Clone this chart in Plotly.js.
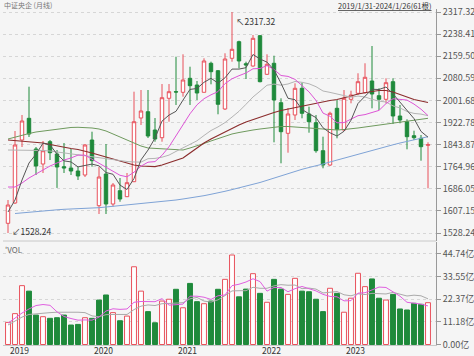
<!DOCTYPE html>
<html>
<head>
<meta charset="utf-8">
<script src="https://cdn.plot.ly/plotly-3.0.1.min.js"></script>
<style>
  html, body { margin: 0; padding: 0; background: #f5f5f5; }
  #chart { width: 474px; height: 356px; }
</style>
</head>
<body>
<div id="chart"></div>
<script>
// ---- data (monthly, 2019-01 .. 2024-01, 61 bars) ----
const months = [];
for (let y = 2019; y <= 2024; y++) {
  for (let m = 1; m <= 12; m++) {
    if (y === 2024 && m > 1) break;
    months.push(y + '-' + String(m).padStart(2, '0'));
  }
}

const openP = [1562.9, 1635.4, 1860.3, 1937.8, 1828.2, 1774.6, 1854.3, 1810.3, 1765.0, 1760.3, 1749.6, 1735.3,
  1860.3, 1625.7, 1738.9, 1631.8, 1679.3, 1657.9, 1711.4, 1938.9, 1961.3, 1896.0, 1868.5, 2009.2,
  2032.8, 2030.6, 2080.6, 2056.7, 2030.6, 2134.2, 2107.7, 1971.0, 2152.0, 2211.3, 2132.7, 2124.5,
  2232.7, 2094.9, 2134.2, 1993.5, 1884.2, 1949.6, 2044.9, 1953.2, 1922.1, 1822.1, 1771.0, 1973.5,
  1896.0, 2005.6, 2027.0, 2029.2, 2071.0, 2018.5, 2005.6, 2068.5, 1946.0, 1925.6, 1875.7, 1866.4,
  1841.4];
const highP = [1646.1, 1892.4, 1949.6, 2050.6, 1835.3, 1856.7, 1860.3, 1824.6, 1849.6, 1828.2, 1763.9, 1846.0,
  1889.9, 1763.9, 1846.0, 1706.8, 1724.6, 1742.5, 2032.8, 2038.8, 2038.8, 1938.8, 2060.2, 2060.2,
  2157.7, 2166.3, 2122.0, 2071.0, 2152.0, 2140.0, 2110.2, 2169.9, 2317.32, 2214.9, 2139.9, 2235.2,
  2235.2, 2166.3, 2161.3, 2009.2, 1974.6, 2062.7, 2064.9, 1979.2, 1949.6, 1872.1, 1961.4, 2003.1,
  2038.8, 2036.3, 2098.5, 2134.2, 2195.9, 2044.9, 2080.6, 2080.6, 1985.3, 1934.2, 1893.5, 1878.2,
  1852.1];
const lowP = [1528.24, 1631.8, 1835.3, 1871.0, 1735.3, 1742.5, 1788.9, 1689.2, 1742.5, 1735.3, 1717.6, 1728.2,
  1765.0, 1596.1, 1596.1, 1622.2, 1640.0, 1656.8, 1710.3, 1913.9, 1867.4, 1854.2, 1854.2, 1925.6,
  1985.3, 2014.9, 1985.3, 2003.1, 2030.6, 2059.2, 1952.1, 1967.4, 2139.9, 2116.3, 2078.1, 2122.0,
  2066.3, 2092.4, 1852.1, 1777.1, 1815.0, 1931.7, 1937.8, 1886.4, 1814.9, 1759.3, 1767.5, 1866.4,
  1893.5, 1991.3, 2021.0, 2027.0, 1973.5, 1967.4, 1991.3, 1917.4, 1919.9, 1827.1, 1860.3, 1786.4,
  1687.8];
const closeP = [1628.2, 1842.5, 1928.2, 1881.7, 1767.5, 1822.0, 1815.0, 1763.9, 1760.3, 1749.6, 1731.8, 1842.5,
  1786.4, 1728.2, 1631.8, 1699.6, 1649.6, 1707.9, 1925.6, 1963.9, 1874.6, 1863.9, 2011.3, 2032.8,
  2031.7, 2074.5, 2054.2, 2028.1, 2142.4, 2104.2, 1987.8, 2149.5, 2184.1, 2142.4, 2128.1, 2223.4,
  2068.5, 2130.6, 2003.1, 1889.9, 1953.2, 2044.9, 1955.6, 1925.6, 1822.1, 1771.0, 1955.6, 1898.5,
  2009.2, 2021.0, 2068.5, 2084.2, 2024.5, 2005.6, 2064.9, 1946.0, 1931.7, 1872.1, 1868.5, 1836.4,
  1843.5];

// moving averages
const ma5 = [1603.2, 1646.1, 1717.5, 1778.2, 1809.6, 1848.6, 1842.8, 1810.0, 1785.7, 1782.1, 1764.3, 1769.6,
  1774.3, 1767.9, 1744.3, 1737.9, 1699.3, 1683.6, 1722.9, 1789.3, 1824.3, 1867.1, 1927.8, 1949.2,
  1962.8, 2002.8, 2041.0, 2044.2, 2066.3, 2080.6, 2063.5, 2082.4, 2113.5, 2113.5, 2118.5, 2165.6,
  2149.2, 2138.5, 2110.6, 2063.1, 2009.2, 2004.2, 1969.2, 1953.9, 1940.3, 1903.9, 1886.0, 1874.6,
  1891.4, 1931.0, 1990.7, 2016.4, 2041.4, 2040.6, 2049.6, 2024.9, 1994.6, 1964.2, 1936.7, 1891.0,
  1870.3];
const ma10 = [1692.5, 1692.5, 1706.8, 1724.7, 1738.9, 1753.2, 1767.5, 1778.2, 1788.9, 1796.1, 1806.4, 1806.1,
  1792.1, 1776.8, 1763.2, 1751.1, 1734.3, 1728.9, 1745.4, 1766.8, 1781.1, 1783.2, 1805.7, 1836.1,
  1876.0, 1913.5, 1953.9, 1986.0, 2007.8, 2021.7, 2033.1, 2061.7, 2078.8, 2089.9, 2099.6, 2114.6,
  2115.6, 2126.0, 2112.1, 2090.6, 2087.4, 2076.7, 2053.9, 2032.1, 2001.7, 1956.4, 1945.0, 1921.7,
  1922.5, 1935.7, 1947.1, 1951.0, 1957.8, 1966.0, 1990.3, 2007.8, 2005.3, 2002.8, 1988.5, 1970.3,
  1947.5];
const ma20 = [1824.6, 1824.6, 1824.6, 1824.6, 1824.6, 1822.8, 1821.0, 1817.5, 1813.9, 1810.4, 1806.8, 1803.2,
  1799.6, 1796.1, 1792.5, 1788.9, 1785.4, 1783.6, 1781.8, 1781.4, 1793.6, 1794.6, 1798.9, 1806.4,
  1819.6, 1832.1, 1843.9, 1857.5, 1876.4, 1894.2, 1907.1, 1922.5, 1942.1, 1962.8, 1987.8, 2013.9,
  2034.6, 2056.0, 2059.9, 2056.0, 2060.3, 2069.2, 2066.3, 2061.0, 2050.6, 2035.3, 2030.3, 2023.9,
  2017.1, 2013.1, 2017.1, 2013.9, 2005.6, 1998.9, 1996.0, 1982.1, 1974.9, 1962.1, 1955.3, 1952.8,
  1947.1];
const ma30 = [1860.3, 1858.5, 1856.8, 1855.0, 1853.2, 1849.6, 1844.3, 1838.9, 1833.6, 1830.0, 1826.4, 1821.1,
  1813.9, 1806.8, 1799.6, 1792.5, 1785.3, 1778.2, 1771.1, 1767.5, 1765.0, 1765.0, 1771.1, 1780.0,
  1788.9, 1796.1, 1813.9, 1831.8, 1849.6, 1863.9, 1876.4, 1888.9, 1903.2, 1913.9, 1924.6, 1933.5,
  1942.5, 1951.4, 1958.5, 1965.7, 1971.0, 1976.4, 1981.7, 1987.1, 1992.4, 1997.8, 2001.4, 2004.9,
  2010.3, 2017.4, 2024.6, 2029.9, 2033.5, 2037.1, 2037.1, 2031.7, 2022.8, 2013.9, 2004.9, 1999.6,
  1994.2];
const ma60 = [1863.9, 1871.0, 1878.2, 1883.5, 1888.9, 1892.5, 1896.0, 1899.6, 1903.2, 1905.0, 1905.7, 1905.0,
  1903.2, 1899.6, 1892.5, 1881.8, 1871.0, 1858.5, 1847.8, 1838.9, 1831.8, 1830.0, 1828.2, 1826.4,
  1824.6, 1824.6, 1831.8, 1838.9, 1847.8, 1856.8, 1865.7, 1874.6, 1881.8, 1887.1, 1892.5, 1896.0,
  1899.6, 1903.2, 1906.7, 1908.5, 1908.5, 1906.7, 1905.0, 1903.2, 1899.6, 1897.8, 1896.0, 1896.0,
  1897.8, 1899.6, 1903.2, 1906.7, 1910.3, 1913.9, 1917.5, 1921.0, 1924.6, 1928.2, 1931.7, 1935.3,
  1937.8];
const ma120 = [null, 1597.9, 1600.4, 1603.3, 1605.0, 1606.8, 1609.3, 1611.1, 1612.9, 1614.7, 1615.8, 1616.8,
  1617.5, 1618.6, 1621.1, 1622.9, 1624.7, 1627.2, 1629.7, 1631.8, 1634.0, 1636.8, 1639.7, 1642.5,
  1646.1, 1649.7, 1653.2, 1656.8, 1661.5, 1666.5, 1671.1, 1677.2, 1683.2, 1688.9, 1695.0, 1701.4,
  1708.6, 1716.4, 1724.7, 1732.5, 1740.0, 1747.9, 1755.7, 1762.1, 1767.5, 1774.6, 1781.8, 1788.9,
  1796.1, 1803.2, 1810.3, 1816.4, 1822.8, 1830.0, 1837.1, 1843.2, 1849.6, 1855.0, 1860.3, 1866.4,
  1872.1];

// volume (亿)
const vol = [10.9, 15.2, 29.0, 26.3, 14.5, 13.7, 12.9, 13.2, 14.5, 9.6, 9.9, 13.2,
  12.9, 21.9, 24.4, 15.7, 11.7, 14.0, 38.3, 26.3, 16.2, 10.7, 21.4, 22.3,
  27.2, 18.1, 30.1, 21.1, 20.1, 21.4, 27.2, 32.1, 44.1, 23.5, 27.3, 34.9,
  25.2, 20.8, 32.1, 27.3, 24.7, 32.6, 26.3, 26.0, 22.3, 16.2, 27.7, 25.2,
  15.9, 22.8, 35.1, 28.5, 32.3, 22.8, 21.9, 24.7, 17.5, 17.0, 20.3, 19.8,
  20.6];
const volMa5 = [10.5, 13.0, 15.5, 17.5, 19.2, 19.7, 19.3, 16.1, 13.8, 12.8, 12.0, 12.1,
  12.0, 13.5, 16.5, 17.6, 17.3, 17.5, 20.8, 21.2, 21.3, 21.1, 22.6, 19.4,
  19.6, 19.9, 23.8, 23.8, 23.3, 22.2, 24.0, 24.4, 29.0, 29.7, 30.8, 32.4,
  31.0, 26.3, 28.1, 28.1, 26.0, 27.5, 28.6, 27.4, 26.4, 24.7, 23.7, 23.5,
  21.5, 21.6, 25.3, 25.5, 26.9, 28.3, 28.1, 26.0, 23.8, 20.8, 20.3, 19.9,
  19.0];
const volMa10 = [9.6, 11.5, 13.5, 14.8, 15.2, 15.5, 15.7, 15.9, 16.0, 16.0, 15.9, 15.7,
  14.1, 13.7, 14.7, 14.8, 14.7, 14.8, 17.2, 18.9, 19.5, 19.2, 20.1, 20.1,
  20.4, 20.6, 22.5, 23.2, 21.4, 20.9, 22.0, 24.1, 26.4, 26.5, 26.5, 28.2,
  27.7, 27.7, 28.9, 29.5, 29.2, 29.3, 27.5, 27.8, 27.3, 25.4, 25.6, 26.1,
  24.5, 24.0, 25.0, 24.6, 25.2, 24.9, 24.9, 25.7, 24.7, 23.9, 24.3, 24.0,
  22.5];

const priceTicks = [1528.24, 1607.15, 1686.05, 1764.96, 1843.87, 1922.78, 2001.68, 2080.59, 2159.50, 2238.41, 2317.32];
const priceTickText = ['1528.24', '1607.15', '1686.05', '1764.96', '1843.87', '1922.78', '2001.68', '2080.59', '2159.50', '2238.41', '2317.32'];
const volTicks = [0, 11.18, 22.37, 33.55, 44.74];
const volTickText = ['0.00亿', '11.18亿', '22.37亿', '33.55亿', '44.74亿'];
const yearTicks = ['2019-01', '2020-01', '2021-01', '2022-01', '2023-01'];
const yearText = ['2019', '2020', '2021', '2022', '2023'];

// ---- styles ----
const RED = '#e8505b';
const GREEN = '#1f8a3b';
const BG = '#f5f5f5';
const FONT = '"Noto Sans CJK SC", "Noto Sans", sans-serif';

const volUp = closeP.map((c, i) => i === 0 ? c >= openP[0] : c >= closeP[i - 1]);

const traces = [
  {
    type: 'candlestick', x: months, open: openP, high: highP, low: lowP, close: closeP,
    xaxis: 'x', yaxis: 'y', whiskerwidth: 0,
    increasing: { line: { color: RED, width: 1 }, fillcolor: '#ffffff' },
    decreasing: { line: { color: GREEN, width: 1 }, fillcolor: GREEN },
    hoverinfo: 'skip', showlegend: false
  },
  { type: 'scatter', mode: 'lines', x: months, y: ma120, line: { color: '#7fa3d6', width: 1 }, yaxis: 'y', showlegend: false },
  { type: 'scatter', mode: 'lines', x: months, y: ma60, line: { color: '#6f9a5e', width: 1 }, yaxis: 'y', showlegend: false },
  { type: 'scatter', mode: 'lines', x: months, y: ma30, line: { color: '#8b2d2d', width: 1.2 }, yaxis: 'y', showlegend: false },
  { type: 'scatter', mode: 'lines', x: months, y: ma20, line: { color: '#b4b4b4', width: 1 }, yaxis: 'y', showlegend: false },
  { type: 'scatter', mode: 'lines', x: months, y: ma10, line: { color: '#dd55d6', width: 1 }, yaxis: 'y', showlegend: false },
  { type: 'scatter', mode: 'lines', x: months, y: ma5, line: { color: '#555555', width: 1 }, yaxis: 'y', showlegend: false },
  {
    type: 'bar', x: months, y: vol, yaxis: 'y2', width: 0.7,
    marker: {
      color: volUp.map(u => u ? '#ffffff' : GREEN),
      line: { color: volUp.map(u => u ? RED : GREEN), width: 1 }
    },
    showlegend: false, hoverinfo: 'skip'
  },
  { type: 'scatter', mode: 'lines', x: months, y: volMa10, yaxis: 'y2', line: { color: '#aaaaaa', width: 1 }, showlegend: false },
  { type: 'scatter', mode: 'lines', x: months, y: volMa5, yaxis: 'y2', line: { color: '#e060e0', width: 1 }, showlegend: false }
];

const splitY = 0.3095;
const yearAnnotations = yearTicks.map((m, k) => ({
  xref: 'x', yref: 'paper', x: m, y: 0, xanchor: 'left', yanchor: 'middle',
  xshift: 1, yshift: -5, showarrow: false, borderpad: 0,
  text: yearText[k], font: { size: 8.5, color: '#333' }
}));

const layout = {
  width: 474, height: 356,
  margin: { l: 3, r: 38, t: 9, b: 11 },
  paper_bgcolor: BG, plot_bgcolor: BG,
  font: { family: FONT, size: 9, color: '#555' },
  showlegend: false,
  xaxis: {
    type: 'category', anchor: 'y2', range: [-0.714, 61.143],
    rangeslider: { visible: false },
    showticklabels: false, ticks: '',
    showgrid: false, zeroline: false, showline: true, linecolor: '#c8c8c8', linewidth: 1
  },
  yaxis: {
    domain: [splitY, 1], range: [1499.68, 2328.03], side: 'right', anchor: 'x',
    tickvals: priceTicks, ticktext: priceTickText, ticks: 'outside', ticklen: 4, tickcolor: '#999',
    tickfont: { size: 9, color: '#555' },
    showgrid: true, gridcolor: '#d6d6d6', griddash: 'dot', gridwidth: 1,
    zeroline: false, showline: true, linecolor: '#999', linewidth: 1
  },
  yaxis2: {
    domain: [0, 0.3065], range: [-0.25, 50.5], side: 'right', anchor: 'x',
    tickvals: volTicks, ticktext: volTickText, ticks: 'outside', ticklen: 4, tickcolor: '#999',
    tickfont: { size: 9, color: '#555' },
    showgrid: true, gridcolor: '#d6d6d6', griddash: 'dot', gridwidth: 1,
    zeroline: false, showline: true, linecolor: '#999', linewidth: 1
  },
  shapes: [
    { type: 'line', xref: 'paper', yref: 'paper', x0: 0, x1: 1, y0: splitY, y1: splitY, line: { color: '#c8c8c8', width: 1 } }
  ],
  annotations: [
    { xref: 'paper', yref: 'paper', x: 0, y: 1, xanchor: 'left', yanchor: 'middle', yshift: 4, showarrow: false, borderpad: 0,
      text: '中证央企 (月线)', font: { size: 7, color: '#777' } },
    { xref: 'paper', yref: 'paper', x: 1, y: 1, xanchor: 'right', yanchor: 'middle', yshift: 4, xshift: -3, showarrow: false, borderpad: 0,
      text: '2019/1/31-2024/1/26(61根)', font: { size: 7.5, color: '#333', lineposition: 'under' } },
    { xref: 'paper', yref: 'paper', x: 0, y: 0.3065, xanchor: 'left', yanchor: 'top', showarrow: false,
      text: "'VOL", font: { size: 8, color: '#666' } },
    { xref: 'x', yref: 'y', x: months[32], y: highP[32], xanchor: 'left', yanchor: 'top', xshift: 2, yshift: -1, showarrow: false,
      text: '↖2317.32', font: { size: 8.5, color: '#333' } },
    { xref: 'x', yref: 'y', x: months[0], y: lowP[0], xanchor: 'left', yanchor: 'middle', xshift: 2, yshift: 2, showarrow: false,
      text: '↙1528.24', font: { size: 8.5, color: '#333' } }
  ].concat(yearAnnotations)
};

Plotly.newPlot('chart', traces, layout, { staticPlot: true, displayModeBar: false });
</script>
</body>
</html>
